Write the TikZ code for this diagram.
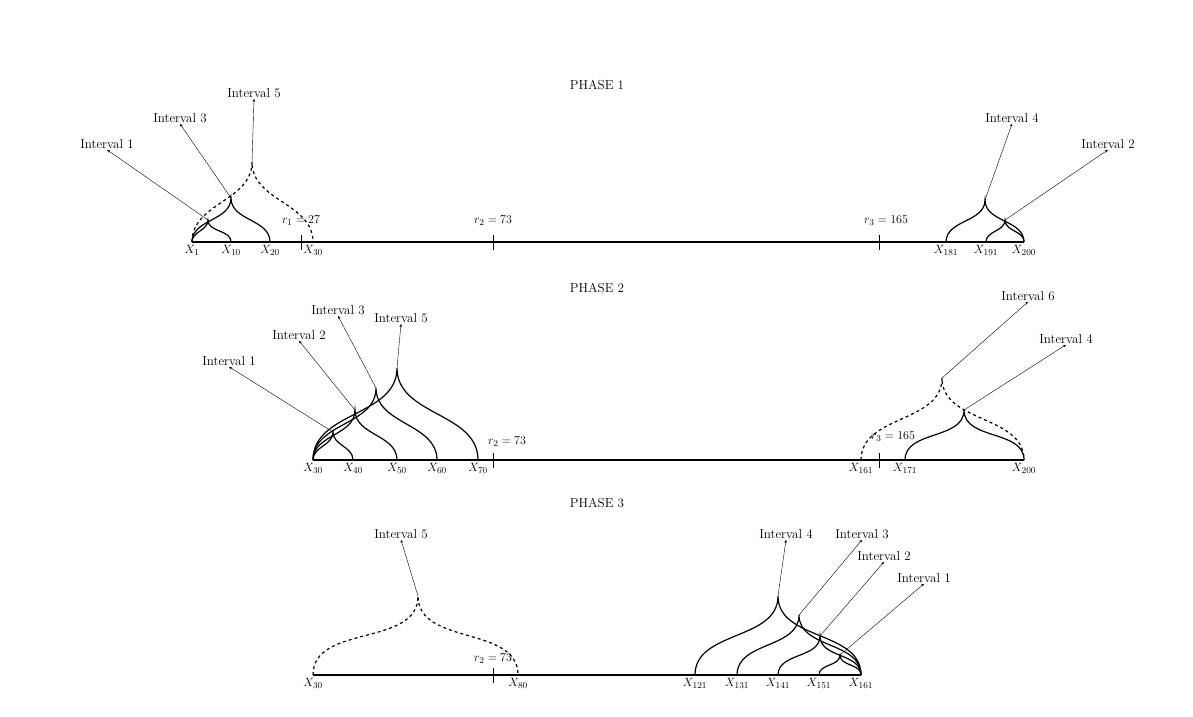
\documentclass[tikz,border=0pt]{standalone}
\usetikzlibrary{arrows.meta}
\begin{document}
\begin{tikzpicture}[x=1pt,y=1pt,
  every node/.style={font=\fontsize{13}{15}\selectfont, inner sep=1pt},
  axis/.style={line width=1.1pt},
  tick/.style={line width=1pt},
  brc/.style={line width=1.2pt},
  dbrc/.style={line width=1.2pt, dashed},
  lead/.style={-{Stealth[length=3pt,width=2.5pt]}, line width=0.4pt}]
\useasboundingbox (0,-716) rectangle (1193,0);
% ---------- PHASE 1
\node (t1) at (597,-85) {PHASE 1};
\coordinate (a1s) at (192,-242); \coordinate (a1e) at (1024,-242);
\draw[axis] (a1s) -- (a1e);
\foreach \n/\x/\l in {p1x1/192/1, p1x10/231/10, p1x20/270/20, p1x30/313/30, p1x181/946/181, p1x191/986/191, p1x200/1024/200}{
  \coordinate (\n) at (\x,-242);
  \node[below=2pt] (\n l) at (\n) {$X_{\l}$};
}
\foreach \n/\x in {p1r1/301, p1r2/493, p1r3/879}{\coordinate (\n) at (\x,-242); \draw[tick] (\x,-235) -- (\x,-250);}
\node (p1r1l) at (301,-221) {$r_1=27$};
\node (p1r2l) at (493,-221) {$r_2=73$};
\node (p1r3l) at (886,-221) {$r_3=165$};
% peaks
\coordinate (q11) at (208,-220); \coordinate (q13) at (231,-198); \coordinate (q15) at (252,-162);
\coordinate (q14) at (985,-200); \coordinate (q12) at (1005,-220);
\draw[brc] (p1x1) to[out=90,in=-90] (q11) to[out=-90,in=90] (p1x10);
\draw[brc] (p1x1) to[out=90,in=-90] (q13) to[out=-90,in=90] (p1x20);
\draw[dbrc] (p1x1) to[out=90,in=-90] (q15) to[out=-90,in=90] (p1x30);
\draw[brc] (p1x181) to[out=90,in=-90] (q14) to[out=-90,in=90] (p1x200);
\draw[brc] (p1x191) to[out=90,in=-90] (q12) to[out=-90,in=90] (p1x200);
\node (i11) at (107,-144) {Interval 1};
\node (i13) at (180,-118) {Interval 3};
\node (i15) at (254,-93) {Interval 5};
\node (i14) at (1012,-118) {Interval 4};
\node (i12) at (1108,-144) {Interval 2};
\draw[lead] (q11) -- (i11.south);
\draw[lead] (q13) -- (i13.south);
\draw[lead] (q15) -- (i15.south);
\draw[lead] (q14) -- (i14.south);
\draw[lead] (q12) -- (i12.south);
% ---------- PHASE 2
\node (t2) at (597,-288) {PHASE 2};
\coordinate (a2s) at (313,-460); \coordinate (a2e) at (1024,-460);
\draw[axis] (a2s) -- (a2e);
\foreach \n/\x/\l in {p2x30/313/30, p2x40/353/40, p2x50/397/50, p2x60/437/60, p2x70/478/70, p2x161/861/161, p2x171/905/171, p2x200/1024/200}{
  \coordinate (\n) at (\x,-460);
  \node[below=2pt] (\n l) at (\n) {$X_{\l}$};
}
\foreach \n/\x in {p2r2/493, p2r3/879}{\coordinate (\n) at (\x,-460); \draw[tick] (\x,-453) -- (\x,-468);}
\node (p2r2l) at (507,-442) {$r_2=73$};
\node (p2r3l) at (893,-437) {$r_3=165$};
\coordinate (q21) at (333,-432); \coordinate (q22) at (355,-410); \coordinate (q23) at (376,-388); \coordinate (q25) at (397,-368);
\coordinate (q26) at (942,-378); \coordinate (q24) at (964,-410);
\draw[brc] (p2x30) to[out=90,in=-90] (q21) to[out=-90,in=90] (p2x40);
\draw[brc] (p2x30) to[out=90,in=-90] (q22) to[out=-90,in=90] (p2x50);
\draw[brc] (p2x30) to[out=90,in=-90] (q23) to[out=-90,in=90] (p2x60);
\draw[brc] (p2x30) to[out=90,in=-90] (q25) to[out=-90,in=90] (p2x70);
\draw[dbrc] (p2x161) to[out=90,in=-90] (q26) to[out=-90,in=90] (p2x200);
\draw[brc] (p2x171) to[out=90,in=-90] (q24) to[out=-90,in=90] (p2x200);
\node (i21) at (229,-361) {Interval 1};
\node (i22) at (299,-335) {Interval 2};
\node (i23) at (338,-310) {Interval 3};
\node (i25) at (401,-318) {Interval 5};
\node (i26) at (1028,-296) {Interval 6};
\node (i24) at (1066,-339) {Interval 4};
\foreach \q/\i in {q21/i21, q22/i22, q23/i23, q25/i25, q26/i26, q24/i24}{\draw[lead] (\q) -- (\i.south);}
% ---------- PHASE 3
\node (t3) at (597,-503) {PHASE 3};
\coordinate (a3s) at (313,-675); \coordinate (a3e) at (861,-675);
\draw[axis] (a3s) -- (a3e);
\foreach \n/\x/\l in {p3x30/313/30, p3x80/518/80, p3x121/695/121, p3x131/737/131, p3x141/778/141, p3x151/819/151, p3x161/861/161}{
  \coordinate (\n) at (\x,-675);
  \node[below=2pt] (\n l) at (\n) {$X_{\l}$};
}
\coordinate (p3r2) at (493,-675); \draw[tick] (493,-668) -- (493,-683);
\node (p3r2l) at (493,-659) {$r_2=73$};
\coordinate (q35) at (418,-596); \coordinate (q34) at (778,-596); \coordinate (q33) at (799,-615);
\coordinate (q32) at (820,-636); \coordinate (q31) at (840,-655);
\draw[dbrc] (p3x30) to[out=90,in=-90] (q35) to[out=-90,in=90] (p3x80);
\draw[brc] (p3x121) to[out=90,in=-90] (q34) to[out=-90,in=90] (p3x161);
\draw[brc] (p3x131) to[out=90,in=-90] (q33) to[out=-90,in=90] (p3x161);
\draw[brc] (p3x141) to[out=90,in=-90] (q32) to[out=-90,in=90] (p3x161);
\draw[brc] (p3x151) to[out=90,in=-90] (q31) to[out=-90,in=90] (p3x161);
\node (i35) at (401,-534) {Interval 5};
\node (i34) at (786,-534) {Interval 4};
\node (i33) at (862,-534) {Interval 3};
\node (i32) at (884,-556) {Interval 2};
\node (i31) at (924,-578) {Interval 1};
\foreach \q/\i in {q35/i35, q34/i34, q33/i33, q32/i32, q31/i31}{\draw[lead] (\q) -- (\i.south);}
\end{tikzpicture}
\end{document}
